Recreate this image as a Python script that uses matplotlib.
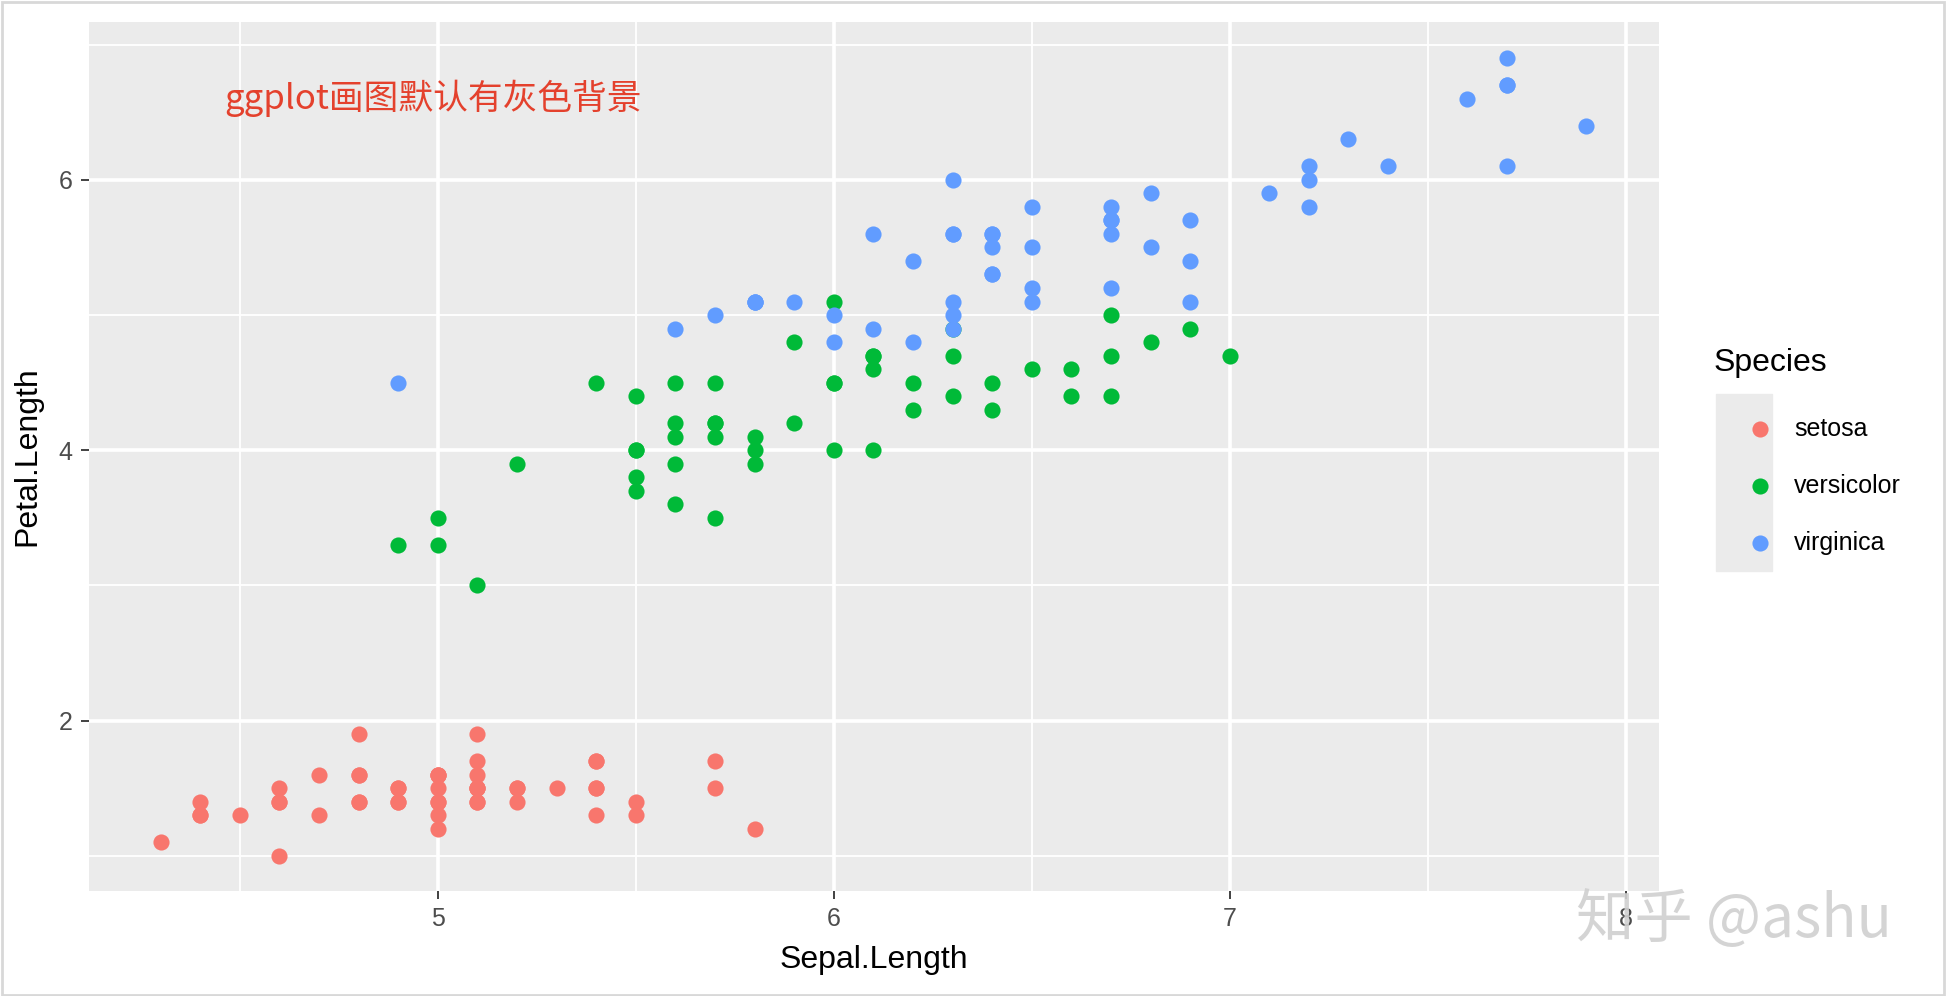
import matplotlib
matplotlib.use("Agg")
import matplotlib.pyplot as plt
from matplotlib.patches import Rectangle
import numpy as np

plt.rcParams['font.family'] = ['Liberation Sans', 'Noto Sans CJK SC', 'DejaVu Sans']

species = ["setosa", "versicolor", "virginica"]
colors = ["#F8766D", "#00BA38", "#619CFF"]
setosa_sl = [5.1,4.9,4.7,4.6,5.0,5.4,4.6,5.0,4.4,4.9,5.4,4.8,4.8,4.3,5.8,5.7,5.4,5.1,5.7,5.1,5.4,5.1,4.6,5.1,4.8,5.0,5.0,5.2,5.2,4.7,4.8,5.4,5.2,5.5,4.9,5.0,5.5,4.9,4.4,5.1,5.0,4.5,4.4,5.0,5.1,4.8,5.1,4.6,5.3,5.0]
setosa_pl = [1.4,1.4,1.3,1.5,1.4,1.7,1.4,1.5,1.4,1.5,1.5,1.6,1.4,1.1,1.2,1.5,1.3,1.4,1.7,1.5,1.7,1.5,1.0,1.7,1.9,1.6,1.6,1.5,1.4,1.6,1.6,1.5,1.5,1.4,1.5,1.2,1.3,1.4,1.3,1.5,1.3,1.3,1.3,1.6,1.9,1.4,1.6,1.4,1.5,1.4]
versicolor_sl = [7.0,6.4,6.9,5.5,6.5,5.7,6.3,4.9,6.6,5.2,5.0,5.9,6.0,6.1,5.6,6.7,5.6,5.8,6.2,5.6,5.9,6.1,6.3,6.1,6.4,6.6,6.8,6.7,6.0,5.7,5.5,5.5,5.8,6.0,5.4,6.0,6.7,6.3,5.6,5.5,5.5,6.1,5.8,5.0,5.6,5.7,5.7,6.2,5.1,5.7]
versicolor_pl = [4.7,4.5,4.9,4.0,4.6,4.5,4.7,3.3,4.6,3.9,3.5,4.2,4.0,4.7,3.6,4.4,4.5,4.1,4.5,3.9,4.8,4.0,4.9,4.7,4.3,4.4,4.8,5.0,4.5,3.5,3.8,3.7,3.9,5.1,4.5,4.5,4.7,4.4,4.1,4.0,4.4,4.6,4.0,3.3,4.2,4.2,4.2,4.3,3.0,4.1]
virginica_sl = [6.3,5.8,7.1,6.3,6.5,7.6,4.9,7.3,6.7,7.2,6.5,6.4,6.8,5.7,5.8,6.4,6.5,7.7,7.7,6.0,6.9,5.6,7.7,6.3,6.7,7.2,6.2,6.1,6.4,7.2,7.4,7.9,6.4,6.3,6.1,7.7,6.3,6.4,6.0,6.9,6.7,6.9,5.8,6.8,6.7,6.7,6.3,6.5,6.2,5.9]
virginica_pl = [6.0,5.1,5.9,5.6,5.8,6.6,4.5,6.3,5.8,6.1,5.1,5.3,5.5,5.0,5.1,5.3,5.5,6.7,6.9,5.0,5.7,4.9,6.7,4.9,5.7,6.0,4.8,4.9,5.6,5.8,6.1,6.4,5.6,5.1,5.6,6.1,5.6,5.5,4.8,5.4,5.6,5.1,5.1,5.9,5.7,5.2,5.0,5.2,5.4,5.1]
xticks = [5, 6, 7, 8]
yticks = [2, 4, 6]

W, H = 1568, 803  # reference measured in this frame
fig = plt.figure(figsize=(19.46, 9.96), dpi=100)
ax = fig.add_axes([72/W, 1-718/H, 1265/W, 700/H])
ax.set_facecolor("#EBEBEB")
for s in ax.spines.values():
    s.set_visible(False)
ax.set_xlim(4.12, 8.085)
ax.set_ylim(0.743, 7.165)
ax.set_xticks(xticks)
ax.set_yticks(yticks)
ax.set_xticks([4.5, 5.5, 6.5, 7.5], minor=True)
ax.set_yticks([1, 3, 5, 7], minor=True)
ax.grid(which="major", color="white", lw=2.6)
ax.grid(which="minor", color="white", lw=1.3)
ax.set_axisbelow(True)
ax.tick_params(which="major", length=6, color="#333333", labelsize=18, labelcolor="#4D4D4D", width=1.3, pad=6)
ax.tick_params(which="minor", length=0)

data = [(setosa_sl, setosa_pl), (versicolor_sl, versicolor_pl), (virginica_sl, virginica_pl)]
for (x, y), c, sp in zip(data, colors, species):
    ax.scatter(x, y, s=135, color=c, label=sp, linewidths=0, zorder=3)

ax.set_xlabel("Sepal.Length", fontsize=23, labelpad=10)
ax.set_ylabel("Petal.Length", fontsize=23, labelpad=12)
ax.text(4.46, 6.6, "ggplot画图默认有灰色背景", fontsize=25, color="#E4412D",
        family=["Noto Sans CJK SC", "DejaVu Sans"], va="center")

fig.patches.append(Rectangle((1383/W, 1-460/H), 45/W, 142/H,
                             transform=fig.transFigure, color="#EBEBEB", zorder=0))
fig.text(1381/W, 1-293/H, "Species", fontsize=23, va="center")
leg = fig.legend(loc="upper left", bbox_to_anchor=(1380/W, 1-318/H), frameon=False,
                 fontsize=18, handletextpad=0.35, labelspacing=1.32, markerscale=1.0)

fig.text(1270/W, 1-742/H, "知乎 @ashu", fontsize=42, color="#D0D0D0",
         family=["Noto Sans CJK SC", "DejaVu Sans"], va="center", alpha=0.9)
fig.patches.append(Rectangle((0.001, 0.001), 0.998, 0.997, transform=fig.transFigure,
                             fill=False, edgecolor="#D8D8D8", lw=2))
fig.savefig("out.png", dpi=100, facecolor="white")
